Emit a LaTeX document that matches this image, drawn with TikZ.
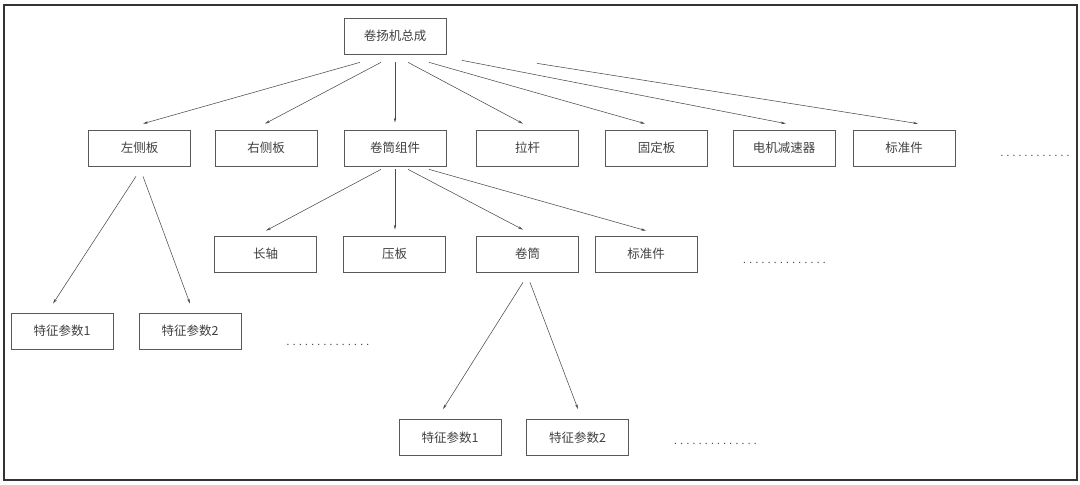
\documentclass[tikz,border=0pt]{standalone}
\usepackage{fontspec}
\newfontfamily\cjk{Noto Sans CJK SC}
\usetikzlibrary{calc,arrows.meta}
\newcommand{\dotrow}[1]{\hbox to #1{\xleaders\hbox to 6pt{\hss.\hss}\hfill}}
\begin{document}
\begin{tikzpicture}[x=1pt,y=-1pt,
  box/.style={draw=black!65,line width=0.7pt,minimum width=102pt,minimum height=36pt,inner sep=0pt,
    font=\cjk\fontsize{12.5}{14}\selectfont,text=black!75},
  dotsnode/.style={inner sep=0pt,font=\cjk\fontsize{10}{11}\selectfont,text=black!75},
  arr/.style={draw=black!70,line width=0.55pt,-{Stealth[length=5pt,width=2.4pt]}}]
\useasboundingbox (0,0) rectangle (1080,485);
\draw[black!80,line width=1.2pt] (4,5) rectangle (1077,480);
% root
\node[box] (root) at (395,36) {卷扬机总成};
% level 1
\node[box] (la) at (139.5,148) {左侧板};
\node[box] (lb) at (266,148) {右侧板};
\node[box] (lc) at (395,148) {卷筒组件};
\node[box] (ld) at (527.5,148) {拉杆};
\node[box] (le) at (656.5,148) {固定板};
\node[box] (lf) at (784,148) {电机减速器};
\node[box] (lg) at (904,148) {标准件};
\node[dotsnode] (d1) at (1035,155.5) {\dotrow{72pt}};
% level 2
\node[box] (ma) at (265.5,254) {长轴};
\node[box] (mb) at (394.5,254) {压板};
\node[box] (mc) at (527.5,254) {卷筒};
\node[box] (md) at (646,254) {标准件};
\node[dotsnode] (d2) at (784.5,262.5) {\dotrow{86pt}};
% left features
\node[box] (ba) at (62,331) {特征参数1};
\node[box] (bb) at (190,331) {特征参数2};
\node[dotsnode] (d3) at (328,344.5) {\dotrow{86pt}};
% right features
\node[box] (ca) at (450,437.5) {特征参数1};
\node[box] (cb) at (577.5,437.5) {特征参数2};
\node[dotsnode] (d4) at (715.5,443.5) {\dotrow{86pt}};
% root arrows
\draw[arr] ($(root.south)+(-35,8)$) -- ($(la.north)+(3.5,-6)$);
\draw[arr] ($(root.south)+(-14,8)$) -- ($(lb.north)+(-1,-6)$);
\draw[arr] ($(root.south)+(0,8)$) -- ($(lc.north)+(0,-7)$);
\draw[arr] ($(root.south)+(13,8)$) -- ($(ld.north)+(-4.5,-6)$);
\draw[arr] ($(root.south)+(34,8)$) -- ($(le.north)+(-11.5,-6)$);
\draw[arr] ($(root.south)+(67,6)$) -- ($(lf.north)+(2,-6)$);
\draw[arr] ($(root.south)+(142,9)$) -- ($(lg.north)+(14,-6)$);
% level 2 arrows
\draw[arr] ($(lc.south)+(-14,3)$) -- ($(ma.north)+(0.5,-5)$);
\draw[arr] ($(lc.south)+(0,3)$) -- ($(mb.north)+(0.5,-6)$);
\draw[arr] ($(lc.south)+(13,3)$) -- ($(mc.north)+(-4.5,-6)$);
\draw[arr] ($(lc.south)+(34,3)$) -- ($(md.north)+(0,-5)$);
% left features arrows
\draw[arr] ($(la.south)+(-3.5,10)$) -- ($(ba.north)+(-9,-9)$);
\draw[arr] ($(la.south)+(3.5,10)$) -- ($(bb.north)+(0,-9)$);
% right features arrows
\draw[arr] ($(mc.south)+(-4.5,10)$) -- ($(ca.north)+(-7,-10)$);
\draw[arr] ($(mc.south)+(2.5,10)$) -- ($(cb.north)+(0.5,-10)$);
\end{tikzpicture}
\end{document}
